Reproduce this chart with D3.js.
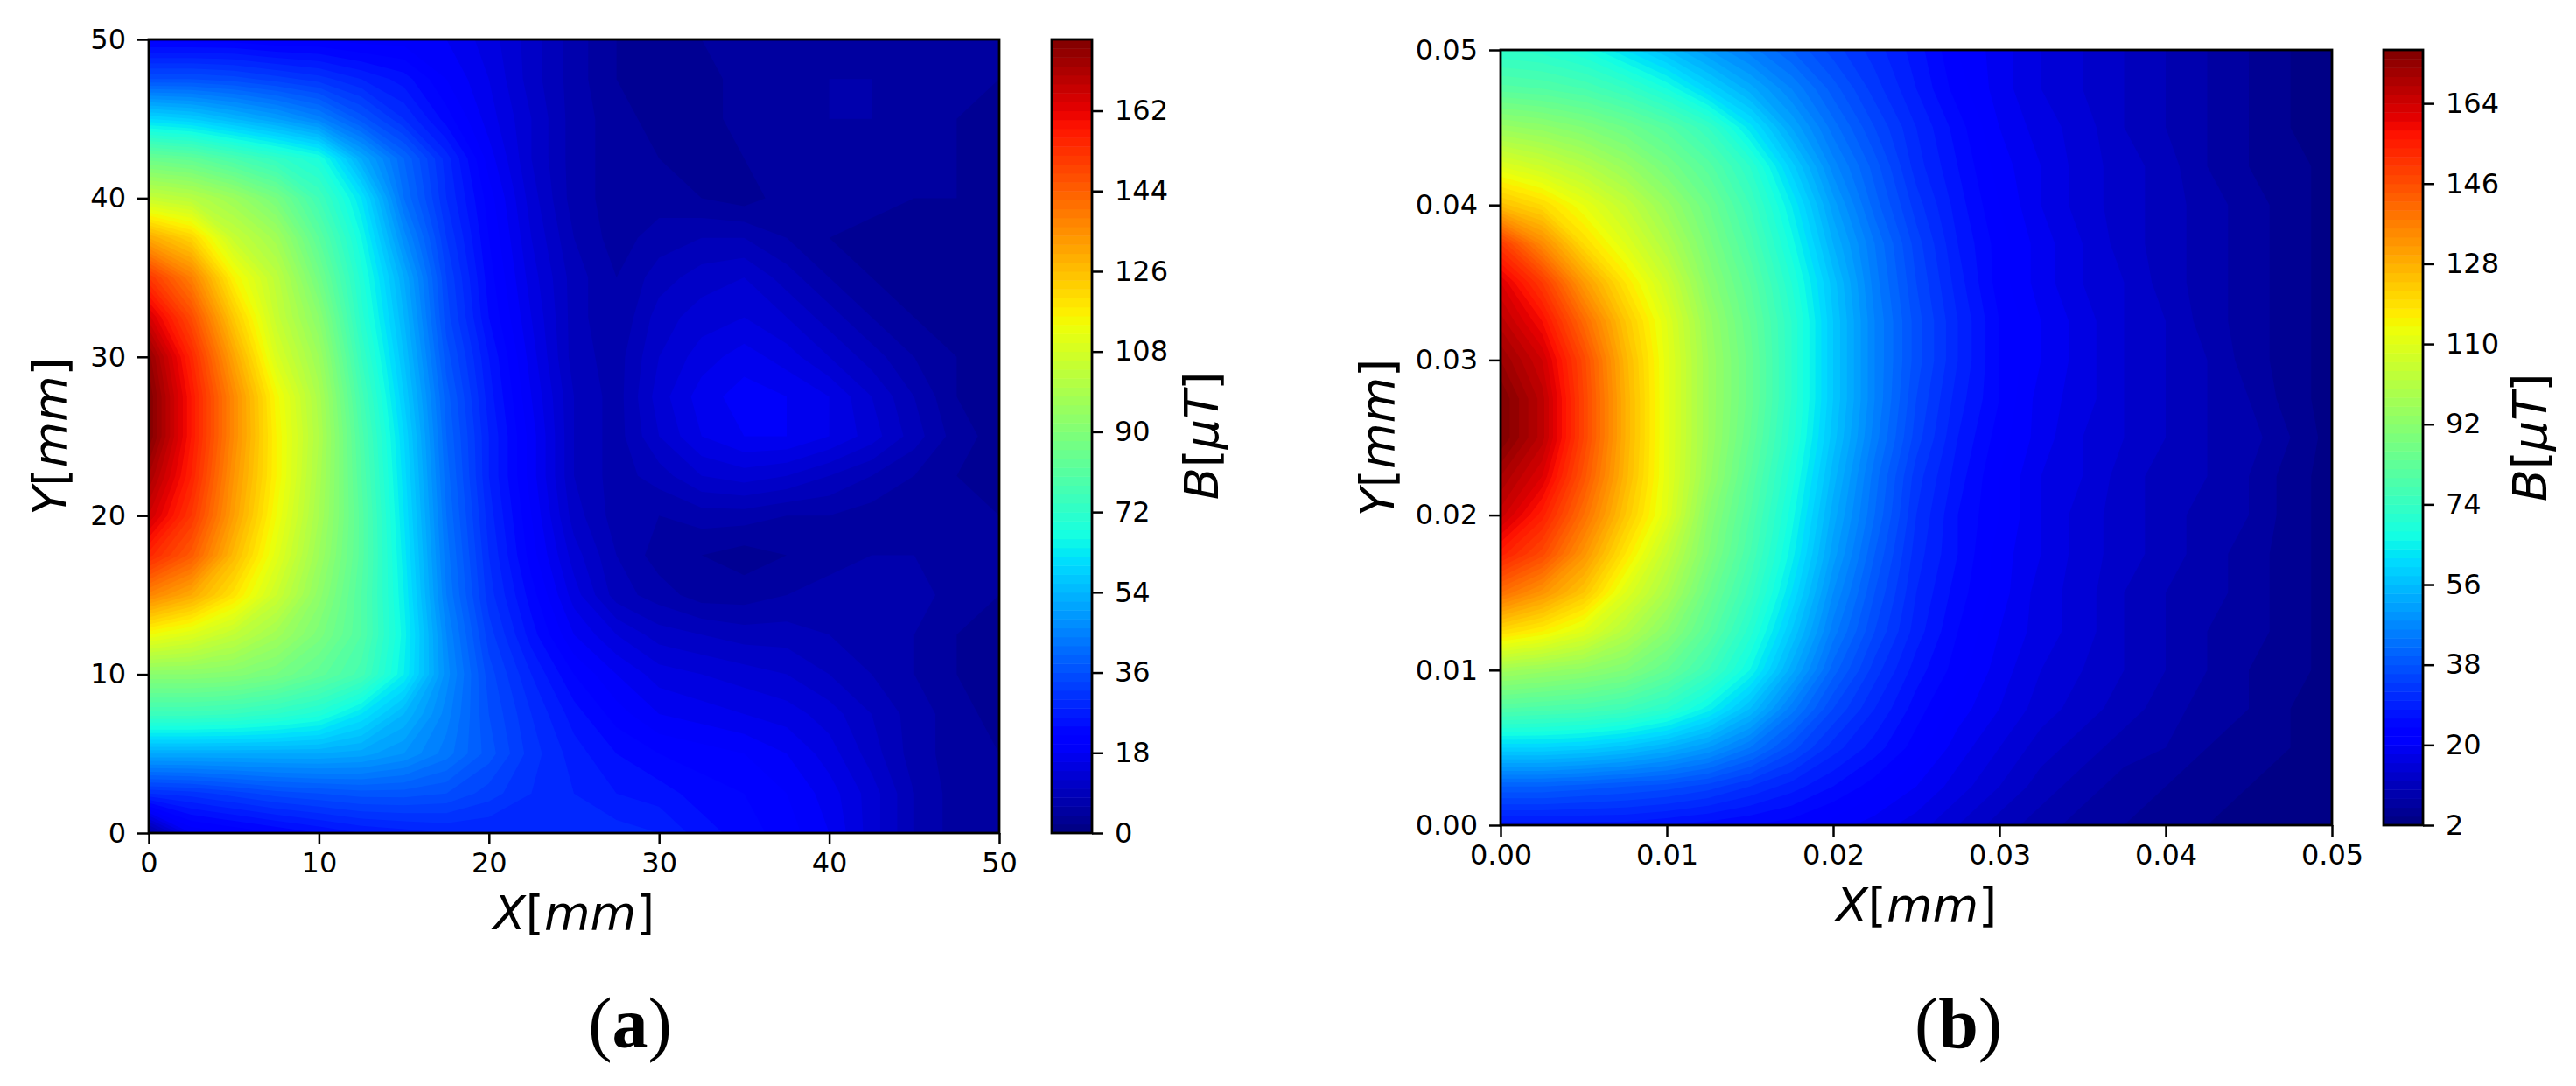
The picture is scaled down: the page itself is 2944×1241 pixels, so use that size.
<!DOCTYPE html>
<html>
<head>
<meta charset="utf-8">
<script src="https://cdn.jsdelivr.net/npm/d3@7"></script>
<style>
  html, body { margin: 0; background: #fff; }
  text { font-family: "DejaVu Sans"; fill: #000; }
</style>
</head>
<body>
<div id="graph"></div>
<script>
// rows run from y=0 to the top, columns from x=0 to the right edge, step is 1/20 of the axis
const fieldA = [
  [5,18,20,22,24,26,27,28,28,29,30,29,28,25,23,21,18,13,8,5,4],
  [30,31,33,35,36,37,37,36,33,30,28,26,25,23,22,20,17,13,8,5,4],
  [52,52,52,52,52,51,48,43,37,31,27,24,22,21,20,18,15,11,7,5,4],
  [75,75,74,72,69,62,54,45,36,30,25,21,18,17,16,15,13,10,7,5,3],
  [92,92,91,88,83,77,64,47,35,28,22,18,15,14,13,12,10,8,6,4,3],
  [114,110,104,97,89,80,65,46,33,25,18,14,11,10,9,9,8,7,6,4,3],
  [137,130,119,106,93,80,64,44,31,23,15,9,7,5,5,6,7,7,7,5,4],
  [155,145,127,111,96,81,63,43,30,21,13,8,5,4,3,4,5,6,6,5,4],
  [166,152,132,114,98,81,62,42,29,20,11,7,6,7,7,6,6,5,5,5,4],
  [172,156,134,116,99,80,61,41,28,19,10,7,9,12,13,12,10,8,6,4,3],
  [178,158,136,116,100,79,60,40,28,19,10,7,12,16,18,18,16,13,9,5,3],
  [178,158,136,115,99,77,58,39,27,18,10,7,13,17,19,18,16,12,8,4,3],
  [175,155,131,109,96,74,56,37,26,17,9,7,12,15,17,15,12,9,6,4,3],
  [165,148,124,105,92,71,54,35,24,16,9,6,11,13,14,12,9,6,4,3,3],
  [152,138,116,103,87,69,52,34,23,15,9,6,9,11,12,9,6,4,3,3,3],
  [130,122,105,97,82,66,47,32,22,14,8,5,7,8,8,6,4,3,3,3,3],
  [105,102,96,88,76,62,42,30,21,13,7,5,5,4,3,5,5,5,4,4,3],
  [85,83,78,73,68,52,40,29,19,12,7,5,4,3,4,5,5,5,5,4,3],
  [60,58,54,50,45,37,30,23,17,12,7,5,3,3,5,5,6,6,5,4,3],
  [36,36,35,33,31,28,25,20,16,11,7,4,3,3,5,5,6,6,5,4,4],
  [21,21,21,20,20,19,19,18,15,11,7,4,3,4,5,5,5,5,5,4,4]
];
const fieldB = [
  [27,27,27,27,26,25,24,23,21,19,17,14,11,9,7,6,5,4,3,3,2],
  [40,40,39,38,37,35,32,29,26,23,20,17,14,11,9,7,6,5,4,3,3],
  [60,60,59,57,54,50,44,37,31,27,23,19,16,13,11,9,8,6,5,4,3],
  [80,79,78,76,72,65,56,45,36,30,25,21,18,15,13,11,9,7,6,4,3],
  [97,95,93,90,84,76,66,53,41,33,27,23,19,16,14,12,10,8,6,5,3],
  [120,116,110,101,92,82,71,58,45,36,29,24,20,17,15,12,10,8,7,5,3],
  [140,133,124,110,99,86,75,62,48,38,30,25,21,17,15,12,10,9,7,5,3],
  [155,147,133,118,104,90,78,65,51,40,31,26,21,18,15,13,11,9,7,5,3],
  [165,155,140,124,110,92,80,67,53,42,32,26,22,18,15,13,11,9,8,5,3],
  [170,162,145,127,111,95,82,69,55,43,33,27,22,18,16,13,11,10,8,5,3],
  [176,167,148,128,111,96,84,71,57,45,35,28,23,19,16,14,12,10,9,6,3],
  [176,167,148,128,111,96,85,72,58,46,36,29,24,19,17,14,12,10,8,5,3],
  [172,164,147,127,111,96,85,72,58,46,37,30,24,20,17,14,12,10,7,5,3],
  [167,158,141,124,110,95,84,72,58,46,37,30,24,20,17,14,12,9,7,5,3],
  [162,150,132,118,106,92,82,70,57,45,36,29,23,19,16,14,11,9,7,5,3],
  [150,135,120,110,100,89,79,67,54,44,35,28,23,19,16,13,11,9,7,5,3],
  [125,120,112,104,95,86,76,64,51,41,33,27,22,18,15,13,11,9,7,5,3],
  [110,106,101,95,88,81,72,59,47,39,31,26,21,18,15,13,11,8,6,5,3],
  [95,93,90,86,81,74,63,52,43,36,30,25,20,17,15,12,10,8,6,4,3],
  [81,80,78,74,68,60,53,46,39,33,28,23,19,16,14,12,10,8,6,4,3],
  [72,71,68,62,56,50,45,40,35,31,27,22,19,16,14,12,10,8,6,4,3]
];
const ticksA = [0, 10, 20, 30, 40, 50];
const ticksB = [0, 0.01, 0.02, 0.03, 0.04, 0.05];
const barTicksA = [0, 18, 36, 54, 72, 90, 108, 126, 144, 162];
const barTicksB = [2, 20, 38, 56, 74, 92, 110, 128, 146, 164];
const levelsA = d3.range(0, 180, 2);
const levelsB = d3.range(2, 178, 2);

// matplotlib jet
const jetR = d3.scaleLinear([0, 0.35, 0.66, 0.89, 1], [0, 0, 1, 1, 0.5]);
const jetG = d3.scaleLinear([0, 0.125, 0.375, 0.64, 0.91, 1], [0, 0, 1, 1, 0, 0]);
const jetB = d3.scaleLinear([0, 0.11, 0.34, 0.65, 1], [0.5, 1, 1, 0, 0]);
const jet = t => `rgb(${jetR(t) * 255},${jetG(t) * 255},${jetB(t) * 255})`;

const svg = d3.select("#graph").append("svg")
    .attr("width", 2944).attr("height", 1241)
    .style("display", "block");

function mathLabel(g, parts) {
  // parts = [[text, italic?], ...]
  parts.forEach(([t, it]) => {
    g.append("tspan").attr("font-style", it ? "italic" : "normal").text(t);
  });
}

function panel(p) {
  const x = d3.scaleLinear(p.domain, [p.left, p.right]);
  const y = d3.scaleLinear(p.domain, [p.bottom, p.top]);
  const g = svg.append("g");
  const n = p.field.length;
  const step = (p.domain[1] - p.domain[0]) / (n - 1);

  g.append("clipPath").attr("id", "clip" + p.name)
    .append("rect")
    .attr("x", p.left).attr("y", p.top)
    .attr("width", p.right - p.left).attr("height", p.bottom - p.top);

  const color = d3.scaleLinear([p.levels[0], p.levels[p.levels.length - 1]], [0, 1]);
  const bands = d3.pairs(p.levels);

  const contours = d3.contours()
      .size([n, n])
      .thresholds(bands.map(d => d[0]))(p.field.flat());

  // a value of cell i sits at grid coordinate i + 0.5
  const path = d3.geoPath(d3.geoTransform({
    point(px, py) {
      this.stream.point(x((px - 0.5) * step), y((py - 0.5) * step));
    }
  }));

  g.append("g")
      .attr("clip-path", `url(#clip${p.name})`)
      .selectAll("path")
      .data(contours)
      .join("path")
      .attr("d", path)
      .attr("fill", (d, i) => jet(color((bands[i][0] + bands[i][1]) / 2)));

  const axisStyle = sel => {
    sel.selectAll("text").attr("font-size", 32).attr("font-family", "DejaVu Sans");
    sel.selectAll("line").attr("stroke", "#000").attr("stroke-width", 2.5);
    sel.select(".domain").remove();
  };

  g.append("g")
      .attr("transform", `translate(0,${p.bottom})`)
      .call(d3.axisBottom(x).tickValues(p.ticks).tickFormat(d3.format(p.fmt)).tickSize(13).tickPadding(9))
      .call(axisStyle);
  g.append("g")
      .attr("transform", `translate(${p.left},0)`)
      .call(d3.axisLeft(y).tickValues(p.ticks).tickFormat(d3.format(p.fmt)).tickSize(13).tickPadding(13))
      .call(axisStyle);

  g.append("rect")
      .attr("x", p.left).attr("y", p.top)
      .attr("width", p.right - p.left).attr("height", p.bottom - p.top)
      .attr("fill", "none").attr("stroke", "#000").attr("stroke-width", 2.8);

  // colorbar
  const barY = d3.scaleLinear([p.levels[0], p.levels[p.levels.length - 1]], [p.bottom, p.top]);
  g.append("g").selectAll("rect")
      .data(bands)
      .join("rect")
      .attr("x", p.barLeft)
      .attr("width", p.barRight - p.barLeft)
      .attr("y", d => barY(d[1]))
      .attr("height", d => barY(d[0]) - barY(d[1]) + 0.5)
      .attr("fill", d => jet(color((d[0] + d[1]) / 2)));
  g.append("g")
      .attr("transform", `translate(${p.barRight},0)`)
      .call(d3.axisRight(barY).tickValues(p.barTicks).tickSize(13).tickPadding(13))
      .call(axisStyle);
  g.append("rect")
      .attr("x", p.barLeft).attr("y", p.top)
      .attr("width", p.barRight - p.barLeft).attr("height", p.bottom - p.top)
      .attr("fill", "none").attr("stroke", "#000").attr("stroke-width", 2.8);

  g.append("text")
      .attr("x", (p.left + p.right) / 2 + p.xLabelShift).attr("y", p.xLabelY)
      .attr("text-anchor", "middle").attr("font-size", 54)
      .call(mathLabel, [["X", 1], ["[", 0], ["mm", 1], ["]", 0]]);
  g.append("text")
      .attr("transform", `translate(${p.yLabelX},${(p.top + p.bottom) / 2}) rotate(-90)`)
      .attr("text-anchor", "middle").attr("font-size", 54)
      .call(mathLabel, [["Y", 1], ["[", 0], ["mm", 1], ["]", 0]]);
  g.append("text")
      .attr("transform", `translate(${p.bLabelX},${p.bLabelY}) rotate(-90)`)
      .attr("text-anchor", "middle").attr("font-size", 54)
      .call(mathLabel, [["B", 1], ["[", 0], ["μT", 1], ["]", 0]]);

  g.append("text")
      .attr("x", p.capX).attr("y", 1197)
      .attr("text-anchor", "middle")
      .style("font-family", "Liberation Serif")
      .attr("font-size", 82)
      .call(sel => {
        sel.append("tspan").text("(");
        sel.append("tspan").attr("font-weight", "bold").text(p.name);
        sel.append("tspan").text(")");
      });
}

panel({
  name: "a", field: fieldA, domain: [0, 50], ticks: ticksA, fmt: "d",
  levels: levelsA, barTicks: barTicksA,
  left: 170, right: 1142, top: 45, bottom: 952,
  barLeft: 1202, barRight: 1248,
  xLabelShift: 0, xLabelY: 1062, yLabelX: 76, bLabelX: 1392, bLabelY: 498, capX: 720
});
panel({
  name: "b", field: fieldB, domain: [0, 0.05], ticks: ticksB, fmt: ".2f",
  levels: levelsB, barTicks: barTicksB,
  left: 1715, right: 2665, top: 57, bottom: 943,
  barLeft: 2724, barRight: 2769,
  xLabelShift: 0, xLabelY: 1053, yLabelX: 1593, bLabelX: 2910, bLabelY: 500, capX: 2238
});
</script>
</body>
</html>
